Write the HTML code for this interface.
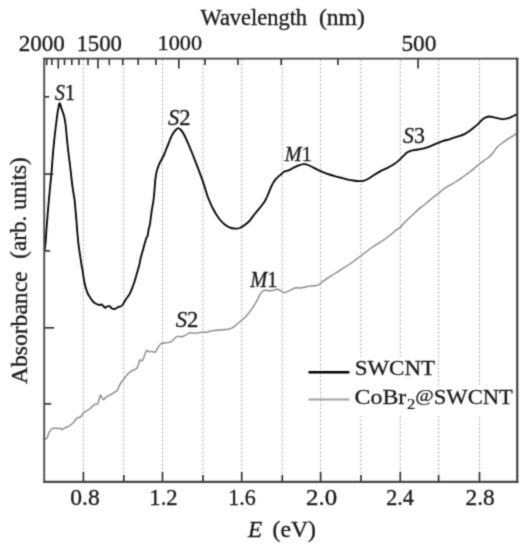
<!DOCTYPE html>
<html><head><meta charset="utf-8"><title>Absorbance spectra</title>
<style>html,body{margin:0;padding:0;background:#fff;}svg{display:block;}</style>
</head><body>
<svg width="528" height="550" viewBox="0 0 528 550">
<defs><filter id="soft" x="0" y="0" width="1" height="1" color-interpolation-filters="sRGB"><feConvolveMatrix order="3" kernelMatrix="1 4 1 4 16 4 1 4 1" divisor="36" edgeMode="duplicate"/></filter></defs>
<rect width="528" height="550" fill="#fff"/>
<g filter="url(#soft)">
<rect width="528" height="550" fill="#fff"/>
<g stroke="#b4b4b4" stroke-width="1.1" stroke-dasharray="2,2"><line x1="83.4" y1="59.6" x2="83.4" y2="480.9"/><line x1="123.8" y1="59.6" x2="123.8" y2="480.9"/><line x1="162.5" y1="59.6" x2="162.5" y2="480.9"/><line x1="203.0" y1="59.6" x2="203.0" y2="480.9"/><line x1="241.7" y1="59.6" x2="241.7" y2="480.9"/><line x1="282.3" y1="59.6" x2="282.3" y2="480.9"/><line x1="320.6" y1="59.6" x2="320.6" y2="480.9"/><line x1="361.0" y1="59.6" x2="361.0" y2="480.9"/><line x1="400.3" y1="59.6" x2="400.3" y2="480.9"/><line x1="438.6" y1="59.6" x2="438.6" y2="480.9"/><line x1="479.5" y1="59.6" x2="479.5" y2="480.9"/></g>
<rect x="352" y="357" width="86" height="28" fill="#fff"/>
<rect x="352" y="385" width="164" height="31" fill="#fff"/>
<path d="M45.3,439.8 C45.7,439.3 47.0,438.1 47.6,436.8 C48.2,435.6 48.5,433.6 49.1,432.3 C49.7,431.0 50.5,429.9 51.4,429.2 C52.3,428.5 53.4,428.4 54.4,428.2 C55.4,428.0 56.6,428.1 57.4,428.2 C58.1,428.3 58.4,428.8 58.9,428.8 C59.4,428.8 60.0,428.1 60.5,428.2 C61.0,428.3 61.4,429.7 62.0,429.7 C62.6,429.7 63.3,428.6 64.2,428.2 C65.1,427.8 66.3,427.5 67.3,427.0 C68.3,426.5 69.3,425.9 70.3,425.2 C71.3,424.5 72.4,423.6 73.3,422.7 C74.2,421.8 74.8,420.5 75.6,419.7 C76.4,418.9 77.1,418.0 77.9,417.6 C78.7,417.2 79.2,417.9 80.2,417.1 C81.2,416.3 82.8,413.7 83.9,412.6 C85.0,411.5 86.0,411.2 87.0,410.6 C88.0,410.0 89.0,409.6 90.0,408.8 C91.0,408.0 92.1,406.6 93.0,405.8 C93.9,405.0 94.5,404.5 95.3,404.2 C96.1,403.9 96.8,405.1 97.6,403.9 C98.3,402.6 99.3,398.1 99.8,396.7 C100.3,395.2 100.2,394.9 100.6,395.2 C101.0,395.4 101.6,397.4 102.1,398.2 C102.6,398.9 103.1,399.8 103.6,399.7 C104.1,399.6 104.4,398.5 105.2,397.9 C106.0,397.3 107.2,396.5 108.2,395.9 C109.2,395.3 110.2,395.0 111.2,394.4 C112.2,393.8 113.2,393.1 114.2,392.4 C115.2,391.7 116.4,391.5 117.3,390.3 C118.2,389.1 118.6,386.8 119.5,385.2 C120.4,383.6 121.6,382.0 122.6,380.6 C123.6,379.2 124.6,378.0 125.6,376.8 C126.6,375.6 127.6,374.3 128.6,373.3 C129.6,372.3 130.7,371.4 131.7,370.8 C132.7,370.2 133.8,370.3 134.7,369.7 C135.6,369.1 136.8,368.3 137.4,367.3 C138.0,366.3 138.1,365.2 138.5,363.9 C138.9,362.6 139.4,360.2 140.0,359.7 C140.6,359.1 141.6,361.3 142.3,360.6 C143.1,359.9 143.8,357.3 144.5,355.6 C145.2,353.9 146.0,350.9 146.8,350.3 C147.6,349.7 148.2,351.6 149.1,351.8 C150.0,352.0 151.1,351.3 152.1,351.4 C153.1,351.4 154.2,352.8 155.2,352.1 C156.2,351.4 157.2,348.7 158.2,347.3 C159.2,345.9 160.1,344.2 161.2,343.5 C162.3,342.8 163.7,343.2 165.0,343.0 C166.3,342.8 167.7,342.7 168.8,342.4 C169.9,342.1 170.8,341.9 171.8,341.2 C172.8,340.5 173.8,339.0 174.8,338.2 C175.8,337.4 176.8,336.6 177.9,336.4 C179.1,336.1 180.4,336.9 181.7,336.7 C183.0,336.5 184.2,335.8 185.5,335.2 C186.8,334.6 188.1,333.3 189.2,332.9 C190.3,332.5 191.4,332.8 192.3,332.9 C193.2,333.0 193.4,333.3 194.5,333.3 C195.6,333.3 197.6,332.9 199.1,332.7 C200.6,332.5 202.3,332.1 203.6,332.0 C204.9,331.9 205.7,332.5 206.7,332.4 C207.7,332.3 208.4,331.5 209.7,331.2 C210.9,330.9 212.7,330.7 214.2,330.5 C215.7,330.3 217.3,330.1 218.8,330.0 C220.3,329.9 221.8,329.8 223.3,329.7 C224.8,329.6 226.5,329.4 227.9,329.2 C229.3,328.9 230.4,328.8 231.7,328.2 C233.0,327.6 234.1,326.6 235.5,325.5 C236.9,324.4 238.5,323.0 240.0,321.7 C241.5,320.4 243.0,319.4 244.5,317.9 C246.0,316.4 247.7,314.4 249.1,312.6 C250.5,310.8 251.6,309.2 252.9,307.3 C254.2,305.4 255.6,303.2 256.7,301.2 C257.8,299.2 258.7,296.9 259.7,295.2 C260.7,293.5 261.7,291.8 262.7,291.0 C263.7,290.2 264.5,290.3 265.8,290.3 C267.1,290.3 269.1,290.8 270.3,290.8 C271.6,290.8 272.2,290.6 273.3,290.3 C274.4,290.0 276.0,289.2 277.1,289.2 C278.2,289.2 279.1,289.7 280.2,290.3 C281.3,290.9 282.5,292.5 283.9,292.6 C285.3,292.7 287.0,291.7 288.5,291.1 C290.0,290.5 291.6,289.4 293.0,288.8 C294.4,288.2 295.5,287.8 296.8,287.7 C298.1,287.6 299.3,288.1 300.6,288.0 C301.9,287.9 303.0,287.6 304.4,287.3 C305.8,287.0 307.3,286.4 308.9,286.1 C310.5,285.9 312.7,286.0 314.2,285.8 C315.7,285.6 316.7,285.8 318.0,285.2 C319.3,284.6 320.2,283.4 321.8,282.3 C323.4,281.1 325.3,279.6 327.5,278.1 C329.7,276.7 332.6,275.0 335.0,273.5 C337.4,272.0 339.5,270.5 341.7,269.1 C343.9,267.7 346.2,266.4 348.3,265.0 C350.4,263.6 352.1,262.3 354.0,261.0 C355.9,259.6 357.8,258.2 359.7,256.8 C361.6,255.4 363.5,253.9 365.3,252.5 C367.1,251.0 368.9,249.6 370.7,248.2 C372.5,246.9 374.5,245.8 376.4,244.6 C378.3,243.4 380.1,242.3 382.0,241.1 C383.9,239.8 385.8,238.4 387.7,237.0 C389.6,235.6 392.2,233.5 393.4,232.5 C394.6,231.5 393.9,231.7 395.0,230.9 C396.1,230.1 398.3,229.0 399.9,227.6 C401.5,226.2 403.2,224.0 404.8,222.3 C406.4,220.6 408.1,219.0 409.7,217.4 C411.3,215.8 413.0,214.4 414.6,212.9 C416.2,211.4 417.9,209.8 419.5,208.4 C421.1,207.0 422.9,206.0 424.5,204.7 C426.1,203.4 427.7,202.0 429.4,200.6 C431.1,199.2 432.9,197.7 434.5,196.4 C436.1,195.1 437.6,194.2 439.1,193.0 C440.6,191.8 442.1,190.3 443.6,189.2 C445.1,188.1 446.7,187.1 448.2,186.2 C449.7,185.3 451.2,184.5 452.7,183.6 C454.2,182.7 455.8,181.8 457.3,180.9 C458.8,180.0 460.3,179.0 461.8,177.9 C463.3,176.8 465.0,175.5 466.4,174.5 C467.8,173.5 468.6,172.9 470.0,171.8 C471.4,170.7 473.0,169.3 474.5,168.0 C476.0,166.8 477.6,165.5 479.1,164.3 C480.6,163.1 482.1,162.0 483.6,160.9 C485.1,159.8 486.8,158.8 488.2,157.7 C489.6,156.6 490.8,155.5 491.8,154.3 C492.9,153.1 493.6,151.8 494.5,150.6 C495.4,149.4 496.2,148.1 497.3,147.0 C498.4,145.9 499.7,144.9 500.9,144.0 C502.1,143.1 503.3,142.2 504.5,141.4 C505.7,140.5 507.0,139.6 508.2,138.8 C509.4,138.1 510.8,137.3 511.8,136.7 C512.9,136.0 513.7,135.5 514.5,135.0 C515.3,134.5 516.2,133.8 516.5,133.6" fill="none" stroke="#888888" stroke-width="1.4" stroke-linejoin="round"/>
<path d="M44.8,250.0 C45.0,248.2 45.5,243.7 45.8,239.5 C46.1,235.3 46.4,229.9 46.8,225.0 C47.2,220.1 47.5,215.8 48.0,210.0 C48.5,204.2 49.2,196.2 49.8,190.0 C50.4,183.8 51.0,178.0 51.5,172.7 C52.0,167.4 52.2,163.0 52.6,158.2 C53.0,153.3 53.4,148.5 53.9,143.6 C54.4,138.7 54.9,133.8 55.5,129.0 C56.1,124.2 56.8,118.1 57.3,114.5 C57.8,110.9 58.1,109.4 58.5,107.5 C58.9,105.6 59.2,103.0 59.7,103.2 C60.2,103.4 61.0,107.0 61.6,108.9 C62.2,110.8 63.1,112.6 63.6,114.4 C64.1,116.2 64.4,117.5 64.8,119.5 C65.2,121.5 65.5,124.2 65.8,126.5 C66.1,128.8 66.2,130.7 66.4,133.0 C66.6,135.3 66.8,137.5 67.1,140.5 C67.4,143.5 67.8,147.3 68.2,150.9 C68.6,154.5 69.1,158.2 69.6,161.8 C70.0,165.4 70.5,169.1 70.9,172.7 C71.3,176.3 71.7,180.4 72.1,183.6 C72.5,186.8 72.9,189.3 73.3,192.0 C73.7,194.7 74.3,197.4 74.6,200.0 C74.9,202.6 75.0,204.3 75.3,207.7 C75.6,211.1 76.1,216.2 76.4,220.5 C76.8,224.8 77.0,229.0 77.4,233.2 C77.8,237.4 78.2,242.1 78.7,245.9 C79.2,249.7 79.7,252.9 80.2,256.1 C80.7,259.3 81.1,262.7 81.5,265.0 C81.9,267.3 82.1,267.5 82.5,270.0 C82.9,272.5 83.5,277.0 84.0,280.0 C84.5,283.0 85.1,285.7 85.8,288.0 C86.5,290.3 87.2,292.3 88.0,294.0 C88.8,295.7 89.6,296.7 90.5,298.0 C91.4,299.3 92.5,301.0 93.5,302.0 C94.5,303.0 95.5,303.5 96.5,304.0 C97.5,304.5 98.7,304.9 99.5,305.0 C100.3,305.1 100.8,304.3 101.5,304.5 C102.2,304.7 102.9,305.6 103.5,306.2 C104.1,306.8 104.6,307.8 105.2,307.8 C105.8,307.9 106.4,306.8 107.0,306.5 C107.6,306.2 108.4,306.1 109.0,306.2 C109.6,306.3 110.0,306.6 110.5,307.0 C111.0,307.4 111.4,308.2 112.0,308.5 C112.6,308.8 113.3,309.0 114.0,309.0 C114.7,309.0 115.3,308.8 116.0,308.5 C116.7,308.2 117.2,307.3 118.0,307.0 C118.8,306.7 119.8,306.8 120.5,306.5 C121.2,306.2 121.9,305.7 122.5,305.0 C123.1,304.3 123.5,303.3 124.0,302.5 C124.5,301.7 125.0,300.8 125.5,300.0 C126.0,299.2 126.4,298.6 127.0,297.8 C127.6,297.0 128.3,296.1 129.0,295.0 C129.7,293.9 130.3,292.5 131.0,291.0 C131.7,289.5 132.3,287.8 133.0,286.0 C133.7,284.2 134.3,282.2 135.0,280.0 C135.7,277.8 136.3,275.3 137.0,273.0 C137.7,270.7 138.3,268.6 139.0,266.0 C139.7,263.4 140.2,260.3 140.9,257.3 C141.7,254.3 142.6,251.1 143.5,248.0 C144.4,244.9 145.4,240.8 146.1,238.7 C146.8,236.6 147.3,237.1 147.7,235.6 C148.1,234.1 148.2,231.6 148.6,229.5 C149.0,227.4 149.6,226.4 150.1,223.3 C150.6,220.2 151.1,214.7 151.7,211.0 C152.2,207.3 152.9,204.4 153.4,200.9 C153.9,197.4 154.2,193.6 154.5,190.0 C154.8,186.4 155.0,182.2 155.4,179.1 C155.8,176.0 156.1,173.8 156.7,171.4 C157.3,169.0 158.1,166.9 158.9,164.9 C159.7,162.9 160.7,161.2 161.6,159.4 C162.5,157.6 163.6,155.8 164.4,154.0 C165.2,152.2 165.8,150.3 166.5,148.5 C167.2,146.7 168.0,144.9 168.7,143.1 C169.4,141.3 170.2,139.2 170.9,137.6 C171.6,136.0 172.4,134.5 173.1,133.3 C173.8,132.1 174.5,131.3 175.3,130.5 C176.2,129.7 177.3,128.3 178.2,128.2 C179.1,128.1 179.8,128.8 180.9,130.0 C182.0,131.2 183.3,133.2 184.5,135.5 C185.7,137.8 186.8,140.4 188.2,143.6 C189.6,146.8 191.2,150.7 192.7,154.5 C194.2,158.3 195.6,162.0 197.3,166.4 C199.0,170.8 201.0,176.1 202.7,180.9 C204.4,185.8 206.2,192.2 207.3,195.5 C208.4,198.8 208.6,198.9 209.5,201.0 C210.4,203.1 211.4,205.6 212.6,207.9 C213.8,210.2 215.1,212.7 216.4,214.7 C217.7,216.7 218.8,218.4 220.2,220.0 C221.6,221.6 223.1,223.2 224.7,224.5 C226.3,225.8 228.2,226.9 230.0,227.6 C231.8,228.3 233.7,228.5 235.3,228.6 C236.9,228.7 238.3,228.6 239.8,228.0 C241.3,227.4 242.9,226.4 244.4,225.3 C245.9,224.2 247.9,222.4 248.9,221.5 C249.9,220.6 249.6,220.8 250.5,219.6 C251.4,218.4 253.2,216.0 254.5,214.3 C255.8,212.6 257.4,210.9 258.6,209.4 C259.8,207.9 260.9,206.7 261.9,205.3 C262.9,203.9 263.9,202.7 264.8,201.2 C265.7,199.7 266.4,197.9 267.2,196.3 C267.9,194.7 268.6,193.0 269.3,191.4 C270.0,189.8 270.6,188.0 271.3,186.5 C272.0,185.0 272.6,183.6 273.4,182.4 C274.1,181.2 275.0,180.1 275.8,179.1 C276.6,178.1 277.5,177.3 278.3,176.6 C279.1,175.8 279.9,175.4 280.8,174.6 C281.8,173.8 282.7,172.5 284.0,171.8 C285.3,171.1 287.0,170.9 288.5,170.3 C290.0,169.7 291.5,168.8 293.1,168.0 C294.8,167.2 296.6,166.1 298.4,165.5 C300.2,164.9 302.1,164.3 303.7,164.2 C305.3,164.1 306.6,164.4 308.2,165.0 C309.8,165.6 311.7,166.7 313.5,167.6 C315.3,168.5 317.0,169.5 318.8,170.3 C320.6,171.1 322.3,171.9 324.1,172.6 C325.9,173.3 327.6,173.9 329.4,174.5 C331.2,175.1 332.9,175.6 334.7,176.1 C336.5,176.6 338.1,177.0 340.0,177.5 C341.9,178.0 344.1,178.6 346.1,179.1 C348.1,179.6 350.1,180.0 352.1,180.3 C354.1,180.6 356.3,181.0 358.2,181.1 C360.1,181.2 361.7,181.2 363.5,180.8 C365.3,180.4 366.9,179.6 368.8,178.5 C370.7,177.4 372.8,175.8 374.8,174.5 C376.8,173.2 378.9,172.0 380.9,170.9 C382.9,169.8 385.0,169.2 387.0,168.2 C389.0,167.2 391.1,166.0 393.0,164.8 C394.9,163.6 396.7,162.3 398.3,160.9 C399.9,159.5 401.4,157.8 402.9,156.4 C404.4,155.0 405.8,153.3 407.4,152.3 C409.0,151.3 411.3,150.7 412.7,150.3 C414.1,149.9 414.2,150.1 415.9,149.8 C417.6,149.5 420.4,149.1 422.7,148.6 C425.0,148.1 427.2,147.4 429.5,146.6 C431.8,145.8 434.1,144.5 436.4,143.6 C438.7,142.7 440.9,141.7 443.2,140.9 C445.5,140.2 447.7,139.8 450.0,139.1 C452.3,138.4 455.1,137.4 456.8,136.8 C458.5,136.2 458.7,136.2 460.0,135.8 C461.3,135.4 463.0,134.8 464.5,134.1 C466.0,133.3 467.6,132.4 469.1,131.3 C470.6,130.2 472.1,129.0 473.6,127.8 C475.1,126.6 476.7,125.3 478.2,123.9 C479.7,122.5 481.4,120.4 482.7,119.3 C484.0,118.2 485.0,117.8 486.1,117.3 C487.2,116.8 488.2,116.5 489.5,116.5 C490.8,116.5 492.6,117.0 494.1,117.3 C495.6,117.6 497.1,118.1 498.6,118.4 C500.1,118.7 501.7,119.1 503.2,119.1 C504.7,119.1 506.2,118.8 507.7,118.4 C509.2,118.0 511.0,117.1 512.3,116.5 C513.6,115.9 514.9,115.2 515.7,114.8 C516.5,114.4 516.8,114.4 517.0,114.3" fill="none" stroke="#050505" stroke-width="1.85" stroke-linejoin="round"/>
<g stroke="#2a2a2a" stroke-width="1.6"><line x1="83.4" y1="481.9" x2="83.4" y2="471.9"/><line x1="123.8" y1="481.9" x2="123.8" y2="474.9"/><line x1="162.5" y1="481.9" x2="162.5" y2="471.9"/><line x1="203.0" y1="481.9" x2="203.0" y2="474.9"/><line x1="241.7" y1="481.9" x2="241.7" y2="471.9"/><line x1="282.3" y1="481.9" x2="282.3" y2="474.9"/><line x1="320.6" y1="481.9" x2="320.6" y2="471.9"/><line x1="361.0" y1="481.9" x2="361.0" y2="474.9"/><line x1="400.3" y1="481.9" x2="400.3" y2="471.9"/><line x1="438.6" y1="481.9" x2="438.6" y2="474.9"/><line x1="479.5" y1="481.9" x2="479.5" y2="471.9"/><line x1="44.2" y1="96.8" x2="49.2" y2="96.8"/><line x1="44.2" y1="174.1" x2="53.2" y2="174.1"/><line x1="44.2" y1="250.9" x2="50.2" y2="250.9"/><line x1="44.2" y1="327.8" x2="54.2" y2="327.8"/><line x1="44.2" y1="403.9" x2="51.2" y2="403.9"/><line x1="46.7" y1="58.6" x2="46.7" y2="65.1"/><line x1="51.8" y1="58.6" x2="51.8" y2="65.1"/><line x1="58.3" y1="58.6" x2="58.3" y2="68.6"/><line x1="64.5" y1="58.6" x2="64.5" y2="65.1"/><line x1="71.8" y1="58.6" x2="71.8" y2="65.1"/><line x1="78.9" y1="58.6" x2="78.9" y2="65.1"/><line x1="88.0" y1="58.6" x2="88.0" y2="65.1"/><line x1="98.0" y1="58.6" x2="98.0" y2="68.6"/><line x1="109.3" y1="58.6" x2="109.3" y2="65.1"/><line x1="122.7" y1="58.6" x2="122.7" y2="65.1"/><line x1="138.2" y1="58.6" x2="138.2" y2="65.1"/><line x1="155.9" y1="58.6" x2="155.9" y2="65.1"/><line x1="178.8" y1="58.6" x2="178.8" y2="68.6"/><line x1="205.0" y1="58.6" x2="205.0" y2="65.1"/><line x1="237.9" y1="58.6" x2="237.9" y2="65.1"/><line x1="281.2" y1="58.6" x2="281.2" y2="65.1"/><line x1="337.9" y1="58.6" x2="337.9" y2="65.1"/><line x1="418.1" y1="58.6" x2="418.1" y2="68.6"/></g>
<path d="M43.20,58.60H518.25" stroke="#404040" stroke-width="1.9"/>
<path d="M43.20,481.90H518.25" stroke="#484848" stroke-width="2.2"/>
<path d="M44.20,57.70V483.00" stroke="#4c4c4c" stroke-width="1.9"/>
<path d="M517.25,57.70V483.00" stroke="#3a3a3a" stroke-width="2.1"/>
<line x1="308.5" y1="372.2" x2="349.4" y2="372.2" stroke="#000" stroke-width="2.4"/>
<line x1="308.5" y1="399.5" x2="349.4" y2="399.5" stroke="#a0a0a0" stroke-width="2.2"/>
<g font-family="Liberation Serif, serif" font-size="100" fill="#1a1a1a" stroke="#1a1a1a" stroke-width="1.4"><text id="b08" transform="translate(70.21,505.08) scale(0.23590,0.23731)">0.8</text><text id="b12" transform="translate(149.31,505.21) scale(0.22636,0.23582)">1.2</text><text id="b16" transform="translate(228.17,504.99) scale(0.22035,0.23235)">1.6</text><text id="b20" transform="translate(306.06,504.98) scale(0.24872,0.23582)">2.0</text><text id="b24" transform="translate(386.17,505.21) scale(0.22101,0.23939)">2.4</text><text id="b28" transform="translate(465.52,505.48) scale(0.23333,0.23582)">2.8</text><text id="t2000" transform="translate(18.73,50.99) scale(0.23073,0.22836)">2000</text><text id="t1500" transform="translate(76.39,51.00) scale(0.22834,0.22353)">1500</text><text id="t1000" transform="translate(157.55,50.32) scale(0.22246,0.21471)">1000</text><text id="t500" transform="translate(401.45,50.80) scale(0.23357,0.22388)">500</text><text id="wl" transform="translate(200.55,25.40) scale(0.22426,0.23111)">Wavelength</text><text id="nm" transform="translate(319.01,25.40) scale(0.23548,0.23111)">(nm)</text><text id="E" transform="translate(247.88,537.05) scale(0.23167,0.23692)" font-style="italic">E</text><text id="eV" transform="translate(272.50,536.74) scale(0.23714,0.22444)">(eV)</text><text id="abs" transform="translate(26.53,383.99) rotate(-90) scale(0.23573,0.22143)">Absorbance</text><text id="arb" transform="translate(26.18,258.68) rotate(-90) scale(0.23140,0.22222)">(arb. units)</text><text id="S1" transform="translate(54.85,100.09) scale(0.20323,0.23235)"><tspan font-style="italic">S</tspan>1</text><text id="S2b" transform="translate(168.02,125.08) scale(0.22581,0.23582)"><tspan font-style="italic">S</tspan>2</text><text id="M1b" transform="translate(284.85,160.55) scale(0.20234,0.21667)"><tspan font-style="italic">M</tspan>1</text><text id="S3" transform="translate(403.03,143.18) scale(0.21789,0.23582)"><tspan font-style="italic">S</tspan>3</text><text id="S2g" transform="translate(175.72,327.38) scale(0.22688,0.23582)"><tspan font-style="italic">S</tspan>2</text><text id="M1g" transform="translate(250.25,287.05) scale(0.20391,0.22273)"><tspan font-style="italic">M</tspan>1</text><text id="leg1" transform="translate(354.64,375.33) scale(0.22991,0.20896)">SWCNT</text><text id="leg2a" transform="translate(354.60,403.63) scale(0.23868,0.21194)">CoBr</text><text id="leg2b" transform="translate(406.89,408.75) scale(0.16500,0.13692)">2</text><text id="leg2c" transform="translate(415.24,400.87) scale(0.20122,0.17412)">@</text><text id="leg2d" transform="translate(433.77,403.62) scale(0.22610,0.21343)">SWCNT</text></g>
</g>
</svg>
</body></html>
